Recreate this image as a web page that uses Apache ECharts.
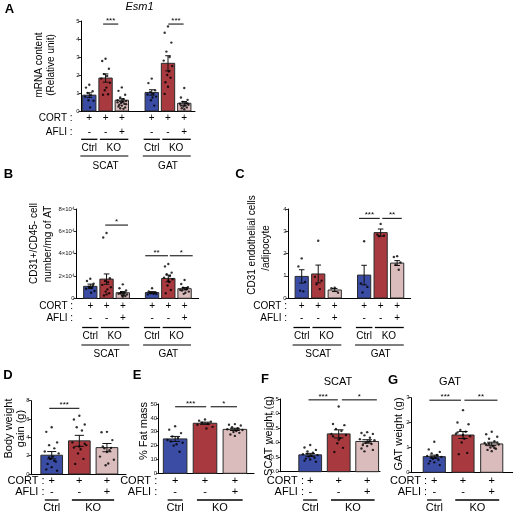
<!DOCTYPE html>
<html><head><meta charset="utf-8">
<script src="https://cdn.jsdelivr.net/npm/echarts@6/dist/echarts.min.js"></script>
<style>html,body{margin:0;padding:0;background:#fff}#c{width:520px;height:515px}</style>
</head><body><div id="c"></div>
<script>
// ---------------- DATA ----------------
const groupNames = ['SCAT', 'GAT'];
const genotypeNames = ['Ctrl', 'KO'];
const cortSigns = ['+', '+', '+'];
const afliSigns = ['-', '-', '+'];

// A: Esm1 mRNA (SCAT Ctrl, KO, KO+AFLI, GAT Ctrl, KO, KO+AFLI)
const esm1Mean = [0.88, 1.83, 0.60, 1.03, 2.65, 0.43];
const esm1Sem  = [0.13, 0.23, 0.08, 0.15, 0.42, 0.10];
const esm1Points = [
  [1.46, 1.30, 1.10, 1.00, 0.88, 0.80, 0.57, 0.20, 0.60],
  [2.90, 2.78, 2.35, 2.05, 1.95, 1.80, 1.57, 1.30, 1.15, 0.93, 0.90],
  [1.31, 1.12, 0.90, 0.75, 0.65, 0.60, 0.55, 0.50, 0.45, 0.40, 0.35, 0.30, 0.25, 0.20, 0.15, 0.12, 0.48, 0.38],
  [1.80, 1.55, 1.15, 1.05, 0.95, 0.92, 0.80, 0.75, 0.60, 0.30],
  [4.70, 4.35, 3.80, 3.30, 3.00, 2.80, 2.50, 2.20, 2.00, 1.85, 1.60, 1.35, 0.95],
  [1.28, 0.75, 0.62, 0.50, 0.45, 0.40, 0.35, 0.30, 0.25, 0.20, 0.15, 0.10, 0.30, 0.42]
];
const esm1Sig = ['***', '***'];

// B: CD31+/CD45- cells per mg AT (units of 10^4)
const cellMean = [1.07, 1.72, 0.50, 0.52, 1.78, 0.86];
const cellSem  = [0.20, 0.46, 0.10, 0.08, 0.30, 0.11];
const cellPoints = [
  [1.75, 1.55, 1.30, 1.05, 0.98, 0.85, 0.65, 0.50, 1.00, 1.15],
  [5.85, 5.45, 1.80, 1.55, 1.45, 1.20, 1.00, 0.80, 0.60, 0.45, 0.25, 0.35],
  [1.25, 0.90, 0.70, 0.55, 0.50, 0.40, 0.35, 0.30, 0.25, 0.20, 0.45, 0.15],
  [0.90, 0.62, 0.55, 0.45, 0.40, 0.35, 0.38],
  [3.07, 2.86, 2.30, 2.15, 2.00, 1.85, 1.70, 1.45, 1.15, 0.75, 0.45, 1.60],
  [1.64, 1.28, 1.00, 0.95, 0.80, 0.75, 0.60, 0.50, 0.40, 0.85, 0.70]
];
const cellSig = ['*', '**', '*'];

// C: CD31 endothelial cells / adipocyte
const endoMean = [0.97, 1.08, 0.36, 1.03, 2.94, 1.57];
const endoSem  = [0.30, 0.40, 0.07, 0.44, 0.16, 0.11];
const endoPoints = [
  [1.78, 1.42, 0.72, 0.33, 0.30],
  [2.57, 0.95, 0.78, 0.62, 0.40],
  [0.46, 0.44, 0.24],
  [2.55, 0.65, 0.50, 0.25],
  [3.33, 2.85, 2.80, 2.78],
  [1.88, 1.84, 1.60, 1.50, 1.27]
];
const endoSig = ['***', '**'];

// D: body weight gain (g)
const bwMean = [2.05, 3.62, 2.88];
const bwSem  = [0.40, 0.60, 0.45];
const bwPoints = [
  [5.10, 4.60, 3.45, 3.15, 2.80, 2.45, 2.25, 1.90, 1.65, 1.35, 1.10, 0.75, 0.50, 0.35, 1.80, 1.45],
  [6.35, 5.95, 5.40, 5.10, 4.75, 3.45, 3.15, 2.70, 2.25, 1.65, 1.10, 3.00, 2.90, 3.30],
  [4.60, 4.55, 3.70, 2.80, 2.60, 1.90, 1.55, 1.15, 0.95, 2.85, 3.00, 2.40]
];
const bwSig = ['***'];

// E: % fat mass
const fatMean = [24.8, 36.1, 31.7];
const fatSem  = [1.8, 0.8, 0.8];
const fatPoints = [
  [34.0, 31.5, 29.0, 26.5, 25.5, 24.0, 22.0, 21.0, 20.0, 15.5, 23.0],
  [38.8, 38.0, 37.2, 36.5, 35.8, 35.0, 33.5, 32.3],
  [35.5, 35.0, 34.5, 33.2, 32.5, 31.8, 31.2, 30.5, 29.8, 29.2, 28.0, 27.0]
];
const fatSig = ['***', '*'];

// F: SCAT weight (g)
const scatMean = [0.58, 1.30, 1.04];
const scatSem  = [0.05, 0.14, 0.06];
const scatPoints = [
  [0.92, 0.83, 0.75, 0.70, 0.65, 0.60, 0.57, 0.55, 0.52, 0.48, 0.45, 0.42, 0.38, 0.34, 0.62],
  [2.24, 1.64, 1.60, 1.47, 1.40, 1.30, 1.26, 1.15, 0.98, 0.82, 0.68, 1.10, 1.22],
  [1.36, 1.33, 1.30, 1.25, 1.17, 1.12, 1.08, 1.03, 1.00, 0.95, 0.92, 0.88, 0.80, 0.75, 0.70, 1.05]
];
const scatSig = ['***', '*'];

// G: GAT weight (g)
const gatMean = [0.63, 1.50, 1.14];
const gatSem  = [0.06, 0.14, 0.07];
const gatPoints = [
  [1.23, 0.92, 0.82, 0.76, 0.70, 0.66, 0.62, 0.58, 0.54, 0.50, 0.45, 0.40, 0.35, 0.29, 0.60, 0.68],
  [2.50, 2.00, 1.93, 1.70, 1.63, 1.55, 1.45, 1.35, 1.20, 0.78, 0.73, 1.50, 1.60],
  [1.63, 1.53, 1.43, 1.35, 1.25, 1.18, 1.12, 1.05, 1.00, 0.95, 0.90, 0.85, 1.10, 1.20, 1.15, 0.98]
];
const gatSig = ['***', '**'];

// ---------------- STYLE / LAYOUT ----------------
const FONT = '"Liberation Sans", Arial, Helvetica, sans-serif';
const barColors = ['#3a4ca4', '#a8393f', '#dbbcbc'];
const jitter = [0, -0.25, 0.25, -0.12, 0.12, -0.32, 0.32, 0.06, -0.06, 0.19, -0.19];

const topRows = {cort: 306.4, afli: 318.7, under: 327.5, sub: 336.7, gline: 345, gtext: 354};
const botRows = {cort: 481, afli: 492.3, under: 500, sub: 507.6};

const panels = [
  {left: 81, top: 21, width: 114, height: 90, xmin: -0.51, xmax: 6.5, slots: [0, 1, 2, 3.84, 4.84, 5.84], bw: 0.82,
   ymax: 5, yint: 1, fmt: v => String(v), mean: esm1Mean, sem: esm1Sem, pts: esm1Points,
   sig: esm1Sig, sigPos: [[0.85, 1.78, 4.83], [4.86, 5.8, 4.83]], isTop: true,
   rows: {cort: 118.3, afli: 132.3, under: 139.3, sub: 148.3, gline: 156, gtext: 166.5}, cortOff: -1.03, font: 10},
  {left: 76, top: 209, width: 122.7, height: 89.3, xmin: -0.88, xmax: 6.67, slots: [0, 1, 2, 3.8, 4.8, 5.8], bw: 0.82,
   ymax: 8, yint: 2, fmt: v => v === 0 ? '0' : v + '×10⁴', mean: cellMean, sem: cellSem, pts: cellPoints,
   sig: cellSig, sigPos: [[0.92, 2.32, 6.56], [3.38, 4.78, 3.81], [4.89, 6.3, 3.81]], isTop: true,
   rows: topRows, cortOff: -1.06, font: 10},
  {left: 288, top: 209, width: 122.7, height: 89, xmin: -0.83, xmax: 6.6, slots: [0, 1, 2, 3.78, 4.78, 5.78], bw: 0.8,
   ymax: 4, yint: 1, fmt: v => String(v), mean: endoMean, sem: endoSem, pts: endoPoints,
   sig: endoSig, sigPos: [[3.47, 4.73, 3.58], [4.88, 6.06, 3.58]], isTop: true,
   rows: topRows, cortOff: -0.89, font: 10},
  {left: 31, top: 400.7, width: 95, height: 73.3, xmin: -0.75, xmax: 2.69, slots: [0, 1, 2], bw: 0.785,
   ymax: 8, yint: 2, fmt: v => String(v), mean: bwMean, sem: bwSem, pts: bwPoints,
   sig: bwSig, sigPos: [[-0.09, 1.0, 7.17]], isTop: false, rows: botRows, cortOff: -0.26, font: 11},
  {left: 158.7, top: 404, width: 95.3, height: 69.3, xmin: -0.55, xmax: 2.64, slots: [0, 1, 2], bw: 0.79,
   ymax: 50, yint: 10, fmt: v => String(v), mean: fatMean, sem: fatSem, pts: fatPoints,
   sig: fatSig, sigPos: [[0, 1.04, 48], [1.19, 2.07, 48]], isTop: false, rows: botRows, cortOff: -0.6, font: 11},
  {left: 280.3, top: 399, width: 99.7, height: 72.7, xmin: -1.05, xmax: 2.45, slots: [0, 1, 2], bw: 0.8,
   ymax: 2.5, yint: 0.5, fmt: v => v.toFixed(1), mean: scatMean, sem: scatSem, pts: scatPoints,
   sig: scatSig, sigPos: [[-0.06, 0.97, 2.47], [1.11, 2.34, 2.47]], isTop: false, rows: botRows, cortOff: -0.22, font: 11},
  {left: 411, top: 397.7, width: 101.7, height: 74.6, xmin: -0.81, xmax: 2.73, slots: [0, 1, 2], bw: 0.77,
   ymax: 3, yint: 1, fmt: v => String(v), mean: gatMean, sem: gatSem, pts: gatPoints,
   sig: gatSig, sigPos: [[-0.17, 0.93, 2.9], [1.05, 2.2, 2.9]], isTop: false, rows: botRows, cortOff: -0.25, font: 11}
];

function txtEl(x, y, s, size, align, extra) {
  return {type: 'text', x: x, y: y, silent: true,
    style: {text: s, fill: '#000', font: (extra || '') + ' ' + size + 'px ' + FONT,
      align: align || 'center', verticalAlign: 'middle', textAlign: align || 'center', textVerticalAlign: 'middle'}};
}
function lineEl(x1, x2, y, w) {
  return {type: 'line', silent: true, shape: {x1: x1, y1: y, x2: x2, y2: y}, style: {stroke: '#000', lineWidth: w}};
}

function barRender(P) {
  return function (params, api) {
    const x = api.value(0), m = api.value(1), s = api.value(2), ci = api.value(3);
    const p0 = api.coord([x, 0]), p1 = api.coord([x, m]);
    const w = api.size([P.bw, 0])[0];
    const pu = api.coord([x, m + s]), pd = api.coord([x, Math.max(0, m - s)]);
    const cw = w * 0.42;
    return {type: 'group', children: [
      {type: 'rect', shape: {x: p0[0] - w / 2, y: p1[1], width: w, height: p0[1] - p1[1]},
       style: {fill: barColors[ci], stroke: '#2b2b2b', lineWidth: 1}},
      {type: 'line', shape: {x1: pu[0], y1: pu[1], x2: pd[0], y2: pd[1]}, style: {stroke: '#111', lineWidth: 1}},
      {type: 'line', shape: {x1: pu[0] - cw / 2, y1: pu[1], x2: pu[0] + cw / 2, y2: pu[1]}, style: {stroke: '#111', lineWidth: 1}},
      {type: 'line', shape: {x1: pd[0] - cw / 2, y1: pd[1], x2: pd[0] + cw / 2, y2: pd[1]}, style: {stroke: '#111', lineWidth: 1}}
    ]};
  };
}

function sigRender(P) {
  return function (params, api) {
    const a = api.coord([api.value(0), api.value(2)]);
    const b = api.coord([api.value(1), api.value(2)]);
    const label = P.sig[params.dataIndex];
    return {type: 'group', children: [
      {type: 'line', shape: {x1: a[0], y1: a[1], x2: b[0], y2: a[1]}, style: {stroke: '#000', lineWidth: 1}},
      txtEl((a[0] + b[0]) / 2, a[1] - 3.2, label, 8)
    ]};
  };
}

function annotRender(P) {
  return function (params, api) {
    const X = p => api.coord([p, 0])[0];
    const R = P.rows, f = P.font;
    const ch = [];
    ch.push(txtEl(X(P.slots[0] + P.cortOff), R.cort, 'CORT :', f, 'right'));
    ch.push(txtEl(X(P.slots[0] + P.cortOff), R.afli, 'AFLI :', f, 'right'));
    P.slots.forEach((s, k) => {
      ch.push(txtEl(X(s), R.cort, cortSigns[k % 3], f));
      ch.push(txtEl(X(s), R.afli, afliSigns[k % 3], f));
    });
    const ng = P.slots.length / 3;
    for (let g = 0; g < ng; g++) {
      const s0 = P.slots[g * 3], s1 = P.slots[g * 3 + 1], s2 = P.slots[g * 3 + 2];
      if (P.isTop) {
        ch.push(lineEl(X(s0 - 0.5), X(s0 + 0.5), R.under, 1.3));
        ch.push(lineEl(X(s1 - 0.35), X(s2 + 0.4), R.under, 1.3));
        ch.push(txtEl(X(s0), R.sub, genotypeNames[0], f));
        ch.push(txtEl(X((s1 + s2) / 2), R.sub, genotypeNames[1], f));
        ch.push(lineEl(X(s0 - 0.55), X(s2 + 0.4), R.gline, 1.1));
        ch.push(txtEl(X(s1), R.gtext, groupNames[g], f));
      } else {
        ch.push(lineEl(X(s0 - 0.25), X(s0 + 0.25), R.under, 1.3));
        ch.push(lineEl(X(s1 - 0.27), X(s2 + 0.26), R.under, 1.3));
        ch.push(txtEl(X(s0), R.sub, genotypeNames[0], f));
        ch.push(txtEl(X((s1 + s2) / 2), R.sub, genotypeNames[1], f));
      }
    }
    return {type: 'group', children: ch};
  };
}

const grid = [], xAxis = [], yAxis = [], series = [];
panels.forEach((P, i) => {
  grid.push({left: P.left, top: P.top, width: P.width, height: P.height, containLabel: false, outerBoundsMode: 'none'});
  xAxis.push({type: 'value', gridIndex: i, min: P.xmin, max: P.xmax,
    axisLine: {show: true, onZero: false, lineStyle: {color: '#000', width: 1}},
    axisTick: {show: false}, axisLabel: {show: false}, splitLine: {show: false}});
  yAxis.push({type: 'value', gridIndex: i, min: 0, max: P.ymax, interval: P.yint,
    axisLine: {show: true, onZero: false, lineStyle: {color: '#000', width: 1}},
    axisTick: {show: true, length: 2.5, lineStyle: {color: '#000', width: 0.8}},
    axisLabel: {fontSize: 6, margin: 1.5, color: '#111', fontFamily: FONT, formatter: P.fmt},
    splitLine: {show: false}});
  series.push({type: 'custom', xAxisIndex: i, yAxisIndex: i, z: 2, silent: true, clip: false,
    data: P.mean.map((m, k) => [P.slots[k], m, P.sem[k], k % 3]), renderItem: barRender(P)});
  const pts = [];
  P.pts.forEach((arr, k) => arr.forEach((v, j) => pts.push([P.slots[k] + jitter[j % jitter.length] * P.bw, v])));
  series.push({type: 'scatter', xAxisIndex: i, yAxisIndex: i, z: 3, silent: true, symbol: 'circle', symbolSize: 2.4,
    itemStyle: {color: '#000'}, data: pts});
  series.push({type: 'custom', xAxisIndex: i, yAxisIndex: i, z: 4, silent: true, clip: false,
    data: P.sigPos, renderItem: sigRender(P)});
  series.push({type: 'custom', xAxisIndex: i, yAxisIndex: i, z: 4, silent: true, clip: false,
    data: [[0, 0]], renderItem: annotRender(P)});
});

function rotText(x, y, s, size) {
  return {type: 'text', x: x, y: y, rotation: Math.PI / 2, silent: true,
    style: {text: s, fill: '#000', font: size + 'px ' + FONT, align: 'center', verticalAlign: 'middle',
      textAlign: 'center', textVerticalAlign: 'middle'}};
}
const graphic = [
  txtEl(9.5, 9, 'A', 13, 'center', 'bold'),
  txtEl(8.5, 174, 'B', 13, 'center', 'bold'),
  txtEl(240, 174, 'C', 13, 'center', 'bold'),
  txtEl(8, 375.5, 'D', 13, 'center', 'bold'),
  txtEl(137, 375.5, 'E', 13, 'center', 'bold'),
  txtEl(265, 379.5, 'F', 13, 'center', 'bold'),
  txtEl(393, 380, 'G', 13, 'center', 'bold'),
  txtEl(139.5, 7, 'Esm1', 11, 'center', 'italic'),
  txtEl(338, 381.7, 'SCAT', 11),
  txtEl(450, 381.7, 'GAT', 11),
  rotText(39, 65, 'mRNA content', 10),
  rotText(51, 65, '(Relative unit)', 10),
  rotText(34, 243.5, 'CD31+/CD45- cell', 10),
  rotText(48, 244, 'number/mg of AT', 10),
  rotText(252, 245, 'CD31 endothelial cells', 10),
  rotText(266, 248, '/adipocyte', 10),
  rotText(9, 428.5, 'Body weight', 11),
  rotText(20.5, 428.5, 'gain (g)', 11),
  rotText(144, 431, '% Fat mass', 11),
  rotText(268.5, 436, 'SCAT weight (g)', 11),
  rotText(398.5, 434, 'GAT weight (g)', 11)
];

const chart = echarts.init(document.getElementById('c'), null, {renderer: 'canvas', width: 520, height: 515});
chart.setOption({animation: false, backgroundColor: '#fff', grid, xAxis, yAxis, series, graphic});
</script>
</body></html>
